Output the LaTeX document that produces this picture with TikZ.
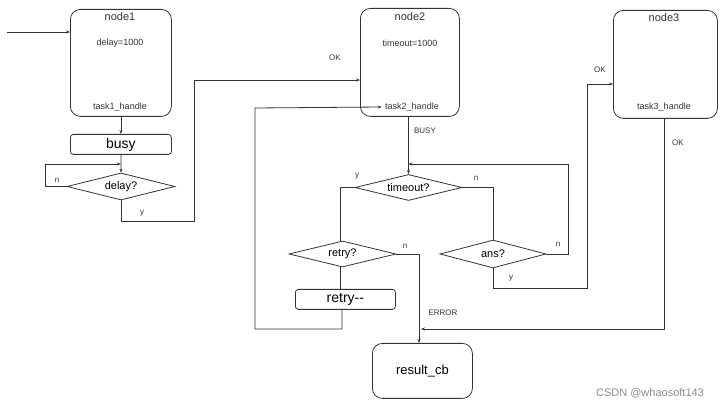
\documentclass[tikz,border=0pt]{standalone}
\usepackage{fontspec}
\setmainfont{Liberation Sans}
\usetikzlibrary{shapes.geometric,arrows.meta}
\begin{document}
\begin{tikzpicture}[x=1pt,y=-1pt,>={Stealth[length=4pt,width=3pt]},
  line/.style={draw=black!80,line width=0.8pt},
  box/.style={line,rounded corners=10pt,minimum width=101pt,anchor=north west},
  proc/.style={line,rounded corners=3pt,minimum width=100pt,minimum height=20pt,anchor=north west,font=\fontsize{14}{14}\selectfont},
  dia/.style={line,diamond,aspect=4.1,inner sep=0pt,minimum width=107pt,minimum height=26pt,font=\fontsize{11}{11}\selectfont},
  lab/.style={font=\fontsize{8}{8}\selectfont,text=black!80},
  small/.style={font=\fontsize{9}{9}\selectfont,text=black!80},
  ttl/.style={font=\fontsize{11}{11}\selectfont,text=black!80}]
\useasboundingbox (0,0) rectangle (726,411);

% boxes
\node[box,minimum height=107pt] (n1) at (70,9) {};
\node[box,minimum height=108pt,minimum width=99pt] (n2) at (360,8) {};
\node[box,minimum height=108pt,minimum width=104pt] (n3) at (613,10) {};
\node[ttl] at (120,17) {node1};
\node[small] at (120,43) {delay=1000};
\node[small] at (120,107) {task1\_handle};
\node[ttl] at (410,17) {node2};
\node[small] at (410,43) {timeout=1000};
\node[small] (t2) at (412,107) {task2\_handle};
\node[ttl] at (664,18) {node3};
\node[small] at (664,107) {task3\_handle};

\node[proc,minimum width=101pt] (busy) at (70,134) {busy};
\node[proc] (rm) at (295,289) {retry-{}-};
\node[line,rounded corners=10pt,minimum width=100pt,minimum height=55pt,anchor=north west,font=\fontsize{13}{13}\selectfont] (res) at (372,343) {result\_cb};

\node[dia,minimum width=108pt,minimum height=27pt] (d1) at (121,186.5) {delay?};
\node[dia] (tmo) at (408.5,187.5) {timeout?};
\node[dia] (rty) at (342.5,254) {retry?};
\node[dia,minimum width=106pt,minimum height=28pt] (ans) at (493,254) {ans?};

\coordinate (in) at (7,32);
\coordinate (a) at (121,164);
\coordinate (b) at (410,164);
\coordinate (c) at (421,329);

% connectors
\draw[line,->] (in) -- (n1.west |- in);
\draw[line,->] (n1.south -| busy.north) -- (busy.north);
\draw[line,->] (busy.south) -- (d1.north);
\draw[line,->] (d1.west) -- (45,186.5) -- (45,164) -- (a);
\draw[line,->] (d1.south) -- (121,221) -- (194,221) -- (194,80) -- (n2.west |- 0,80);
\draw[line,->] (n2.south -| tmo.north) -- (tmo.north);
\draw[line,->] (ans.east) -- (568,254) -- (568,164) -- (tmo.north |- b);
\draw[line] (tmo.west) -- (340,187.5) -- (rty.north -| 340,0);
\draw[line] (tmo.east) -- (ans.north |- tmo.east) -- (ans.north);
\draw[line] (rty.south -| 340,0) -- (rm.north -| 340,0);
\draw[line,->] (rty.east) -- (419,254) -- (res.north -| 419,0);
\draw[line,->] (rm.south -| 342,0) -- (342,329) -- (255,329) -- (255,108) -- (t2.west);
\draw[line,->] (ans.south) -- (493,288) -- (587,288) -- (587,84) -- (n3.west |- 0,84);
\draw[line,->] (n3.south -| 664,0) -- (664,329) -- (c);

% labels
\node[lab] at (57,180) {n};
\node[lab] at (142,213) {y};
\node[lab] at (335,58) {OK};
\node[lab] at (425,131) {BUSY};
\node[lab] at (357,176) {y};
\node[lab] at (476,178) {n};
\node[lab] at (405,246) {n};
\node[lab] at (443,313) {ERROR};
\node[lab] at (511,278) {y};
\node[lab] at (558,244) {n};
\node[lab] at (600,70) {OK};
\node[lab] at (678,143) {OK};
\node[font=\fontsize{11}{11}\selectfont,text=black!45] at (650,393) {CSDN @whaosoft143};
\end{tikzpicture}
\end{document}
